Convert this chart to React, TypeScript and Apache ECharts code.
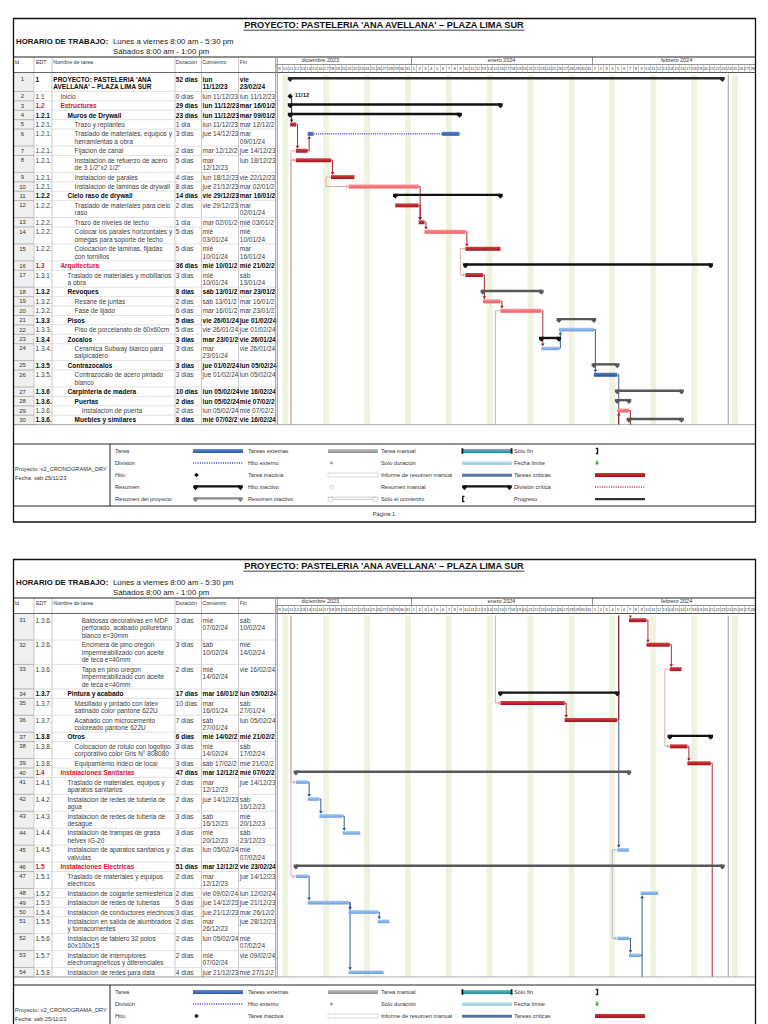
import React, { useEffect, useRef } from "react";
import * as echarts from "echarts";

// ---------------- data ----------------
const projectTitle = "PROYECTO: PASTELERIA 'ANA AVELLANA' – PLAZA LIMA SUR";
const scheduleTitle = "HORARIO DE TRABAJO:";
const scheduleLines = ["Lunes a viernes 8:00 am - 5:30 pm", "Sábados 8:00 am - 1:00 pm"];
const columnHeaders = ["Id", "EDT", "Nombre de tarea", "Duración", "Comienzo", "Fin"];
const projectInfo = ["Proyecto: v2_CRONOGRAMA_DRY", "Fecha: sáb 25/11/23"];
const footerLabel = "Página 1";

const edt = [
  "1", "1.1", "1.2", "1.2.1", "1.2.1.1", "1.2.1.2", "1.2.1.3", "1.2.1.4", "1.2.1.5", "1.2.1.6",
  "1.2.2", "1.2.2.1", "1.2.2.2", "1.2.2.3", "1.2.2.4", "1.3", "1.3.1", "1.3.2", "1.3.2.1", "1.3.2.2",
  "1.3.3", "1.3.3.1", "1.3.4", "1.3.4.1", "1.3.5", "1.3.5.1", "1.3.6", "1.3.6.1", "1.3.6.1.1", "1.3.6.2",
  "1.3.6.2.1", "1.3.6.2.2", "1.3.6.2.3", "1.3.7", "1.3.7.1", "1.3.7.2", "1.3.8", "1.3.8.1", "1.3.8.2", "1.4",
  "1.4.1", "1.4.2", "1.4.3", "1.4.4", "1.4.5", "1.5", "1.5.1", "1.5.2", "1.5.3", "1.5.4",
  "1.5.5", "1.5.6", "1.5.7", "1.5.8",
];

const taskNames = [
  "PROYECTO: PASTELERIA 'ANA\nAVELLANA' – PLAZA LIMA SUR",
  "Inicio",
  "Estructuras",
  "Muros de Drywall",
  "Trazo y replanteo",
  "Traslado de materiales, equipos y\nherramientas a obra",
  "Fijacion de canal",
  "Instalacion de refuerzo de acero\nde 3 1/2\"x2 1/2\"",
  "Instalacion de parales",
  "Instalacion de laminas de drywall",
  "Cielo raso de drywall",
  "Traslado de materiales para cielo\nraso",
  "Trazo de niveles de techo",
  "Colocar los parales horizontales y\nomegas para soporte de techo",
  "Colocacion de laminas, fijadas\ncon tornillos",
  "Arquitectura",
  "Traslado de materiales y mobiliarios\na obra",
  "Revoques",
  "Resane de juntas",
  "Fase de lijado",
  "Pisos",
  "Piso de porcelanato de 60x60cm",
  "Zocalos",
  "Ceramica Subway blanco para\nsalpicadero",
  "Contrazocalos",
  "Contrazocalo de acero pintado\nblanco",
  "Carpinteria de madera",
  "Puertas",
  "Instalacion de puerta",
  "Muebles y similares",
  "Baldosas decorativas en MDF\nperforado, acabado poliuretano\nblanco e=30mm",
  "Encimera de pino oregon\nimpermeabilizado con aceite\nde teca e=40mm",
  "Tapa en pino oregon\nimpermeabilizado con aceite\nde teca e=40mm",
  "Pintura y acabado",
  "Masillado y pintado con latex\nsatinado color pantone 622U",
  "Acabado con microcemento\ncoloreado pantone 622U",
  "Otros",
  "Colocacion de rotulo con logotipo\ncorporativo color Gris N° 808080",
  "Equipamiento indeci de local",
  "Instalaciones Sanitarias",
  "Traslado de materiales, equipos y\naparatos sanitarios",
  "Instalacion de redes de tuberia de\nagua",
  "Instalacion de redes de tuberia de\ndesague",
  "Instalacion de trampas de grasa\nhelvex IG-20",
  "Instalacion de aparatos sanitarios y\nvalvulas",
  "Instalaciones Electricas",
  "Traslado de materiales y equipos\nelectricos",
  "Instalacion de colgante semiesferica",
  "Instalacion de redes de tuberias",
  "Instalacion de conductores electricos",
  "Instalacion en salida de alumbrados\ny tomacorrientes",
  "Instalacion de tablero 32 polos\n60x100x15",
  "Instalacion de interruptores\nelectromagneticos y diferenciales",
  "Instalacion de redes para data",
];

const durations = [
  "52 días", "0 días", "29 días", "23 días", "1 día", "3 días", "2 días", "5 días", "4 días", "8 días",
  "14 días", "2 días", "1 día", "5 días", "5 días", "36 días", "3 días", "8 días", "2 días", "6 días",
  "5 días", "5 días", "3 días", "3 días", "3 días", "3 días", "10 días", "2 días", "2 días", "8 días",
  "3 días", "3 días", "2 días", "17 días", "10 días", "7 días", "6 días", "3 días", "3 días", "47 días",
  "2 días", "2 días", "3 días", "3 días", "2 días", "51 días", "2 días", "2 días", "5 días", "3 días",
  "2 días", "2 días", "2 días", "4 días",
];

const startDates = [
  "lun 11/12/23", "lun 11/12/23", "lun 11/12/23", "lun 11/12/23", "lun 11/12/23", "jue 14/12/23", "mar 12/12/23", "mar 12/12/23", "lun 18/12/23", "jue 21/12/23",
  "vie 29/12/23", "vie 29/12/23", "mar 02/01/24", "mié 03/01/24", "mié 10/01/24", "mié 10/01/24", "mié 10/01/24", "sáb 13/01/24", "sáb 13/01/24", "mar 16/01/24",
  "vie 26/01/24", "vie 26/01/24", "mar 23/01/24", "mar 23/01/24", "jue 01/02/24", "jue 01/02/24", "lun 05/02/24", "lun 05/02/24", "lun 05/02/24", "mié 07/02/24",
  "mié 07/02/24", "sáb 10/02/24", "mié 14/02/24", "mar 16/01/24", "mar 16/01/24", "sáb 27/01/24", "mié 14/02/24", "mié 14/02/24", "sáb 17/02/24", "mar 12/12/23",
  "mar 12/12/23", "jue 14/12/23", "sáb 16/12/23", "mié 20/12/23", "lun 05/02/24", "mar 12/12/23", "mar 12/12/23", "vie 09/02/24", "jue 14/12/23", "jue 21/12/23",
  "mar 26/12/23", "lun 05/02/24", "mié 07/02/24", "jue 21/12/23",
];

const endDates = [
  "vie 23/02/24", "lun 11/12/23", "mar 16/01/24", "mar 09/01/24", "mar 12/12/23", "mar 09/01/24", "jue 14/12/23", "lun 18/12/23", "vie 22/12/23", "mar 02/01/24",
  "mar 16/01/24", "mar 02/01/24", "mié 03/01/24", "mié 10/01/24", "mar 16/01/24", "mié 21/02/24", "sáb 13/01/24", "mar 23/01/24", "mar 16/01/24", "mar 23/01/24",
  "jue 01/02/24", "jue 01/02/24", "vie 26/01/24", "vie 26/01/24", "lun 05/02/24", "lun 05/02/24", "vie 16/02/24", "mié 07/02/24", "mié 07/02/24", "vie 16/02/24",
  "sáb 10/02/24", "mié 14/02/24", "vie 16/02/24", "lun 05/02/24", "sáb 27/01/24", "lun 05/02/24", "mié 21/02/24", "sáb 17/02/24", "mié 21/02/24", "mié 07/02/24",
  "jue 14/12/23", "sáb 16/12/23", "mié 20/12/23", "sáb 23/12/23", "mié 07/02/24", "vie 23/02/24", "jue 14/12/23", "lun 12/02/24", "jue 21/12/23", "mar 26/12/23",
  "jue 28/12/23", "mié 07/02/24", "vie 09/02/24", "mié 27/12/23",
];

// P project summary, S summary, g grey summary, M milestone, C critical, c critical (light),
// B task, b task (light), X split task
const barKinds = [
  "P", "M", "S", "S", "C", "X", "C", "C", "C", "c",
  "S", "C", "C", "c", "C", "S", "C", "g", "c", "c",
  "g", "b", "S", "b", "g", "B", "g", "g", "c", "g",
  "C", "C", "C", "S", "C", "C", "S", "C", "C", "g",
  "b", "b", "b", "b", "b", "g", "b", "b", "b", "b",
  "b", "b", "b", "b",
];

const splitTask = { id: 6, pause: "vie 15/12/23", resume: "sáb 06/01/24" };

// dependencies (0 = continues past the page)
const linkFrom = [2, 5, 7, 8, 10, 12, 13, 14, 17, 19, 20, 24, 22, 26, 36, 29, 31, 32, 38, 39, 35, 52, 53, 53, 41, 42, 43, 47, 49, 50, 49, 7, 9, 15, 20, 33, 45, 8, 8];
const linkTo = [5, 7, 6, 9, 13, 13, 14, 15, 19, 20, 24, 22, 26, 45, 29, 31, 32, 33, 39, 0, 36, 53, 48, 0, 42, 43, 44, 49, 50, 51, 54, 8, 10, 17, 35, 38, 52, 41, 47];
const linkType = [
  "FS", "FS", "FS", "FS", "FS", "FS", "FS", "FS", "FS", "FS", "FS", "FS", "FS", "FS", "FS", "FS", "FS", "FS", "FS", "FS",
  "FS", "FS", "FS", "FS", "FS", "FS", "FS", "FS", "FS", "FS", "FS", "SS", "SS", "SS", "SS", "SS", "SS", "SS", "SS",
];

const rowsPerPage = [30, 24];
const timelineStart = "09/12/23";
const timelineEnd = "29/02/24";
const monthLabels = ["diciembre 2023", "enero 2024", "febrero 2024"];
const finishLineDate = "24/02/24";

const legendColumns = [
  ["Tarea", "División", "Hito", "Resumen", "Resumen del proyecto"],
  ["Tareas externas", "Hito externo", "Tarea inactiva", "Hito inactivo", "Resumen inactivo"],
  ["Tarea manual", "Sólo duración", "Informe de resumen manual", "Resumen manual", "Sólo el comienzo"],
  ["Sólo fin", "Fecha límite", "Tareas críticas", "División crítica", "Progreso"],
];

// ---------------- layout ----------------
const FAM = "'Liberation Sans', Arial, Helvetica, sans-serif";
const PAGE_OFFSETS = [0, 541];
const UNIT = 7.53;
const ROWS_TOP = 74.5;
const GANTT_LEFT = 276.5;
const GANTT_RIGHT = 755.5;
const COL_LINES = [34, 52, 175, 201.5, 238.5];
const RED_TEXT = "#e3141c";

function parseDay(s: string, hour = 8) {
  const m = s.match(/(\d{2})\/(\d{2})\/(\d{2})/) as RegExpMatchArray;
  return new Date(2000 + Number(m[3]), Number(m[2]) - 1, Number(m[1]), hour).getTime();
}
const T0 = parseDay(timelineStart, 0);
const T1 = parseDay(timelineEnd, 0);

let mctx: any = null;
function textWidth(s: string, size: number, bold = false) {
  if (!mctx) mctx = document.createElement("canvas").getContext("2d");
  mctx.font = `${bold ? "bold " : ""}${size}px 'Liberation Sans'`;
  return mctx.measureText(s).width;
}
function clipLine(s: string, size: number, bold: boolean, w: number) {
  let t = s;
  while (t.length > 1 && textWidth(t, size, bold) > w) t = t.slice(0, -1);
  return t;
}
function clipText(s: string, size: number, bold: boolean, w: number) {
  return s.split("\n").map((l) => clipLine(l, size, bold, w)).join("\n");
}
function fitDate(s: string, bold: boolean, lines: number) {
  if (textWidth(s, 6.5, bold) <= 35.95) return s;
  if (lines > 1) return s.replace(" ", "\n");
  return clipLine(s, 6.5, bold, 37.5);
}

const rows = taskNames.map((name, i) => {
  const lines = name.split("\n").length;
  return {
    idx: i,
    name,
    edt: edt[i],
    level: edt[i].split(".").length,
    kind: barKinds[i],
    lines,
    units: lines + 0.25,
    start: parseDay(startDates[i]),
    end: parseDay(endDates[i]),
    top: 0,
  };
});
{
  let acc = 0;
  rows.forEach((r) => {
    r.top = acc;
    acc += r.units;
  });
}
const pageFirst = [0, rowsPerPage[0]];
const pageStartUnit = pageFirst.map((f) => rows[f].top);
const pageUnits = pageFirst.map((f, p) => {
  const last = rows[f + rowsPerPage[p] - 1];
  return last.top + last.units - rows[f].top;
});

const dayList: Date[] = [];
{
  const d = new Date(T0);
  while (d.getTime() < T1 - 3600000) {
    dayList.push(new Date(d));
    d.setDate(d.getDate() + 1);
  }
}
const dayLabels = dayList.map((d) => String(d.getDate()));
const firstMonth = dayList[0].getFullYear() * 12 + dayList[0].getMonth();
const monthRowLabels = dayList.map((d) => {
  const mdays = new Date(d.getFullYear(), d.getMonth() + 1, 0).getDate();
  return d.getDate() === Math.ceil(mdays / 2) ? monthLabels[d.getFullYear() * 12 + d.getMonth() - firstMonth] : "";
});
const sundays = dayList.filter((d) => d.getDay() === 0).map((d) => d.getTime());

// ---------------- drawing helpers ----------------
function txt(text: string, x: number, y: number, size: number, o: any = {}) {
  const align = o.align || "left";
  const va = o.va || "middle";
  const style: any = {
    text,
    font: `${o.bold ? "bold " : ""}${size}px ${FAM}`,
    fill: o.color || "#222",
    align,
    textAlign: align,
    verticalAlign: va,
    textVerticalAlign: va,
  };
  if (o.lh) {
    style.lineHeight = o.lh;
    style.textLineHeight = o.lh;
  }
  return { type: "text", x, y, z: o.z ?? 10, silent: true, style };
}
function lineEl(x1: number, y1: number, x2: number, y2: number, stroke: string, lw = 1, z = 5, dash?: number[]) {
  const style: any = { stroke, lineWidth: lw };
  if (dash) style.lineDash = dash;
  return { type: "line", z, silent: true, shape: { x1, y1, x2, y2 }, style };
}
function rectEl(x: number, y: number, w: number, h: number, fill: any, stroke: any = null, lw = 0, z = 5) {
  const style: any = { fill };
  if (stroke) {
    style.stroke = stroke;
    style.lineWidth = lw;
  }
  return { type: "rect", z, silent: true, shape: { x, y, width: w, height: h }, style };
}
function grad(c1: string, c2: string) {
  return new echarts.graphic.LinearGradient(0, 0, 0, 1, [
    { offset: 0, color: c1 },
    { offset: 1, color: c2 },
  ]);
}
function diamond(cx: number, cy: number, r: number, fill: string, stroke?: string) {
  const style: any = { fill };
  if (stroke) {
    style.stroke = stroke;
    style.lineWidth = 0.6;
  }
  return { type: "polygon", z: 6, silent: true, shape: { points: [[cx, cy - r], [cx + r, cy], [cx, cy + r], [cx - r, cy]] }, style };
}
function summaryEls(xs: number, xe: number, yc: number, color: string, hollow = false) {
  const cap = (x: number) => ({
    type: "polygon",
    z: 6,
    silent: true,
    shape: { points: [[x - 2.3, yc - 2.2], [x + 2.3, yc - 2.2], [x + 2.3, yc + 0.4], [x, yc + 2.8], [x - 2.3, yc + 0.4]] },
    style: hollow ? { fill: "#fff", stroke: color, lineWidth: 0.6 } : { fill: color },
  });
  const bar = hollow
    ? rectEl(xs, yc - 2.2, Math.max(0.5, xe - xs), 2.4, "#fff", color, 0.6, 6)
    : rectEl(xs, yc - 2.2, Math.max(0.5, xe - xs), 2.4, color, null, 0, 6);
  return [bar, cap(xs), cap(xe)];
}
function barFill(kind: string) {
  switch (kind) {
    case "C": return grad("#d4454a", "#a0121a");
    case "c": return grad("#ff9294", "#ee5c60");
    case "B": return grad("#4d7cc4", "#25539a");
    case "b": return grad("#a3c6f2", "#6f9fe0");
    default: return grad("#5585cf", "#2f5fab");
  }
}
function arrowPts(dir: string, x: number, y: number) {
  if (dir === "down") return [[x - 1.8, y - 2.8], [x + 1.8, y - 2.8], [x, y]];
  if (dir === "up") return [[x - 1.8, y + 2.8], [x + 1.8, y + 2.8], [x, y]];
  return [[x - 2.8, y - 1.8], [x - 2.8, y + 1.8], [x, y]];
}

// ---------------- series render functions ----------------
function sundayItem(params: any, api: any) {
  const t = api.value(0);
  const x0 = api.coord([t, 0])[0];
  const x1 = api.coord([t + 86400000, 0])[0];
  const cs = params.coordSys;
  return { type: "rect", shape: { x: x0, y: cs.y, width: x1 - x0, height: cs.height }, style: { fill: "#edf3de" } };
}
function finishItem(params: any, api: any) {
  const x = api.coord([api.value(0), 0])[0];
  const cs = params.coordSys;
  return { type: "line", shape: { x1: x, y1: cs.y, x2: x, y2: cs.y + cs.height }, style: { stroke: "#9d9d9d", lineWidth: 1 } };
}
function tableItem(params: any, api: any) {
  const i = api.value(2);
  const r = rows[i];
  const yTop = api.coord([T0, r.top])[1];
  const yBot = api.coord([T0, r.top + r.units])[1];
  const bold = r.kind === "S" || r.kind === "g" || r.kind === "P";
  const red = bold && r.level === 2;
  const base = bold ? "#0a0a0a" : "#3c3c3c";
  const ty = yTop + 1;
  const ch: any[] = [];
  ch.push(lineEl(13.5, yBot, 34, yBot, "#9c9c9c", 0.7, 2));
  ch.push(lineEl(34, yBot, 276.5, yBot, "#d6d6d6", 0.7, 2));
  const o = (extra: any) => ({ va: "top", lh: UNIT, bold, color: base, ...extra });
  ch.push(txt(String(i + 1), 22.5, ty, 6, { va: "top", lh: UNIT, align: "center", color: "#333" }));
  ch.push(txt(clipText(r.edt, 6.5, bold, 16.3), 35.5, ty, 6.5, o({ color: red ? RED_TEXT : base })));
  const nx = 53.3 + (r.level - 1) * 7.1;
  ch.push(txt(clipText(r.name, 6.5, bold, 175 - nx - 0.3), nx, ty, 6.5, o({ color: red ? RED_TEXT : base })));
  ch.push(txt(clipText(durations[i], 6.5, bold, 25.5), 175.8, ty, 6.5, o({})));
  ch.push(txt(fitDate(startDates[i], bold, r.lines), 202.6, ty, 6.5, o({})));
  ch.push(txt(fitDate(endDates[i], bold, r.lines), 239.8, ty, 6.5, o({})));
  return { type: "group", children: ch };
}
function barItem(params: any, api: any) {
  const i = api.value(2);
  const r = rows[i];
  const X = (t: number) => api.coord([t, 0])[0];
  const yc = api.coord([T0, r.top + 0.625])[1];
  const xs = X(r.start);
  const xe = X(r.end);
  const ch: any[] = [];
  const rect = (a: number, b: number, fill: any, h = 4) => rectEl(a, yc - h / 2, Math.max(0.8, b - a), h, fill, null, 0, 6);
  switch (r.kind) {
    case "P": ch.push(...summaryEls(xs, xe, yc, "#2b2b2b")); break;
    case "S": ch.push(...summaryEls(xs, xe, yc, "#121212")); break;
    case "g": ch.push(...summaryEls(xs, xe, yc, "#585858")); break;
    case "M": {
      const m = startDates[i].match(/(\d{2}\/\d{2})/) as RegExpMatchArray;
      ch.push(diamond(xs, yc, 2.6, "#111"));
      ch.push(txt(m[1], xs + 4.5, yc - 0.8, 6, { bold: true, color: "#222" }));
      break;
    }
    case "X": {
      const p1 = X(parseDay(splitTask.pause));
      const p2 = X(parseDay(splitTask.resume));
      ch.push(rect(xs, p1, barFill("X")));
      ch.push(lineEl(p1, yc, p2, yc, "#2f2fd0", 1.2, 6, [1, 1.2]));
      ch.push(rect(p2, xe, barFill("X")));
      break;
    }
    default:
      ch.push(rect(xs, xe, barFill(r.kind), r.kind === "b" ? 3.6 : 4));
  }
  return { type: "group", children: ch };
}
function linkColor(a: any, type: string) {
  const crit = a.kind === "C" || a.kind === "c";
  if (a.kind === "M") return "#111";
  if (type === "SS") return crit ? "#e6a0a3" : "#a4b7d3";
  return crit ? "#a6131b" : "#1e4d95";
}
function linkItem(params: any, api: any) {
  const k = api.value(2);
  const a = rows[linkFrom[k] - 1];
  const X = (t: number) => api.coord([t, 0])[0];
  const Y = (u: number) => api.coord([T0, u])[1];
  const yA = Y(a.top + 0.625);
  const aS = X(a.start);
  const aE = a.kind === "M" ? aS : X(a.end);
  const color = linkColor(a, linkType[k]);
  let pts: number[][];
  let arrow: number[][] | null = null;
  const toId = linkTo[k];
  if (toId === 0) {
    const xv = aE + 1.5;
    pts = [[aE, yA], [xv, yA], [xv, yA + 3000]];
  } else {
    const b = rows[toId - 1];
    const yB = Y(b.top + 0.625);
    const bS = X(b.start);
    if (linkType[k] === "SS") {
      const xl = Math.min(aS, bS) - 5;
      pts = [[aS, yA], [xl, yA], [xl, yB], [bS - 2.6, yB]];
      arrow = arrowPts("right", bS, yB);
    } else if (bS >= aE - 0.5) {
      const xv = Math.max(bS, aE) + 1.5;
      if (yB > yA) {
        const tip = yB - 2.2;
        pts = [[aE, yA], [xv, yA], [xv, tip - 2.6]];
        arrow = arrowPts("down", xv, tip);
      } else {
        const tip = yB + 2.2;
        pts = [[aE, yA], [xv, yA], [xv, tip + 2.6]];
        arrow = arrowPts("up", xv, tip);
      }
    } else {
      const yMid = Y(a.top + a.units);
      const xr = aE + 3;
      const xl = bS - 4;
      pts = [[aE, yA], [xr, yA], [xr, yMid], [xl, yMid], [xl, yB], [bS - 2.6, yB]];
      arrow = arrowPts("right", bS, yB);
    }
  }
  const ch: any[] = [{ type: "polyline", shape: { points: pts }, style: { stroke: color, lineWidth: 0.9, fill: null } }];
  if (arrow) ch.push({ type: "polygon", shape: { points: arrow }, style: { fill: color } });
  return { type: "group", children: ch };
}

// ---------------- legend ----------------
function legendSymbol(label: string, x0: number, y: number) {
  const x1 = x0 + 50;
  const bar = (fill: any, h = 4, stroke: any = null) => rectEl(x0, y - h / 2, 50, h, fill, stroke, 0.6, 6);
  switch (label) {
    case "Tarea": return [bar(grad("#5f8fd3", "#2c5aa0"))];
    case "División": return [lineEl(x0, y, x1, y, "#3b3bd6", 1.3, 6, [1, 1.3])];
    case "Hito": return [diamond(x0 + 3.5, y, 2.3, "#111")];
    case "Resumen": return summaryEls(x0 + 2.5, x1 - 2.5, y + 0.4, "#111");
    case "Resumen del proyecto": return summaryEls(x0 + 2.5, x1 - 2.5, y + 0.4, "#8a8a8a");
    case "Tareas externas": return [bar(grad("#c4c4c4", "#8f8f8f"))];
    case "Hito externo": return [diamond(x0 + 3.5, y, 1.8, "#9a9a9a")];
    case "Tarea inactiva": return [bar("#ffffff", 4, "#c4c4c4")];
    case "Hito inactivo": return [diamond(x0 + 3.5, y, 2.1, "#ffffff", "#aaaaaa")];
    case "Resumen inactivo": return summaryEls(x0 + 2.5, x1 - 2.5, y + 0.4, "#a8a8a8", true);
    case "Tarea manual": return [
      bar(grad("#62c0c6", "#1f8a92")),
      rectEl(x0 - 0.5, y - 2.8, 1.8, 5.6, "#111", null, 0, 7),
      rectEl(x1 - 1.3, y - 2.8, 1.8, 5.6, "#111", null, 0, 7),
    ];
    case "Sólo duración": return [bar(grad("#c9e6f2", "#8fc6df"), 3.6)];
    case "Informe de resumen manual": return [rectEl(x0, y - 1.2, 50, 3, "#56769e", null, 0, 6)];
    case "Resumen manual": return summaryEls(x0 + 2.5, x1 - 2.5, y + 0.4, "#111");
    case "Sólo el comienzo": return [{ type: "polyline", z: 6, silent: true, shape: { points: [[x0 + 2.5, y - 2.6], [x0 + 0.8, y - 2.6], [x0 + 0.8, y + 2.6], [x0 + 2.5, y + 2.6]] }, style: { stroke: "#111", lineWidth: 1.4, fill: null } }];
    case "Sólo fin": return [{ type: "polyline", z: 6, silent: true, shape: { points: [[x0 + 0.8, y - 2.6], [x0 + 2.5, y - 2.6], [x0 + 2.5, y + 2.6], [x0 + 0.8, y + 2.6]] }, style: { stroke: "#111", lineWidth: 1.4, fill: null } }];
    case "Fecha límite": return [
      lineEl(x0 + 2, y - 3, x0 + 2, y, "#2a9a2a", 1, 6),
      { type: "polygon", z: 6, silent: true, shape: { points: [[x0, y - 0.5], [x0 + 4, y - 0.5], [x0 + 2, y + 2.2]] }, style: { fill: "#2a9a2a" } },
    ];
    case "Tareas críticas": return [bar(grad("#d4353b", "#a0121a"))];
    case "División crítica": return [lineEl(x0, y, x1, y, "#d02a2a", 1.3, 6, [1, 1.3])];
    case "Progreso": return [rectEl(x0, y - 1, 50, 2.2, "#333", null, 0, 6)];
  }
  return [];
}

function pageGraphics(p: number) {
  const o = PAGE_OFFSETS[p];
  const rowsEnd = ROWS_TOP + o + pageUnits[p] * UNIT;
  const els: any[] = [];
  const borderBottom = p === 0 ? 522 : 1200;
  els.push(rectEl(13.5, 18.5 + o, 742, borderBottom - 18.5 - o, "none", "#111", 1.3, 30));
  const tw = textWidth(projectTitle, 9.2, true);
  els.push(txt(projectTitle, 384, 25 + o, 9.2, { bold: true, align: "center", color: "#111" }));
  els.push(lineEl(384 - tw / 2, 30.2 + o, 384 + tw / 2, 30.2 + o, "#111", 0.8, 10));
  els.push(txt(scheduleTitle, 16, 41.5 + o, 7.8, { bold: true, color: "#111" }));
  els.push(txt(scheduleLines[0], 113, 41.5 + o, 7.8, { color: "#222" }));
  els.push(txt(scheduleLines[1], 113, 51 + o, 7.8, { color: "#222" }));
  // table header
  els.push(lineEl(13.5, 57 + o, 755.5, 57 + o, "#222", 1, 8));
  els.push(lineEl(13.5, 72.5 + o, 276.5, 72.5 + o, "#444", 0.8, 8));
  const hx = [14.5, 36, 53.3, 175.7, 202.3, 239.7];
  columnHeaders.forEach((h, k) => els.push(txt(h, hx[k], 62 + o, 5.3, { color: "#333" })));
  els.push(rectEl(13.5, 72.5 + o, 20.5, rowsEnd - 72.5 - o, "#efefef", null, 0, 0));
  COL_LINES.forEach((x) => els.push(lineEl(x, 57 + o, x, rowsEnd, "#b4b4b4", 0.7, 3)));
  els.push(lineEl(275.6, 57 + o, 275.6, rowsEnd, "#8a8a8a", 0.8, 8));
  els.push(lineEl(277.4, 57 + o, 277.4, rowsEnd, "#8a8a8a", 0.8, 8));
  els.push(lineEl(13.5, rowsEnd, 755.5, rowsEnd, "#9a9a9a", 0.8, 8));
  // legend
  const lt = 444 + o;
  els.push(lineEl(13.5, lt, 755.5, lt, "#222", 1, 8));
  els.push(lineEl(110, lt, 110, p === 0 ? 506 : 1200, "#222", 1, 8));
  els.push(txt(projectInfo[0], 15, 469 + o, 5.7, { color: "#333" }));
  els.push(txt(projectInfo[1], 15, 478 + o, 5.7, { color: "#333" }));
  const ly = [451, 463, 475, 487, 499];
  const lx = [115, 248, 381, 514];
  const sx = [193, 328, 462, 595];
  legendColumns.forEach((col, c) => {
    col.forEach((label, k) => {
      const y = ly[k] + o;
      if (y > 1030) return;
      els.push(txt(label, lx[c], y, 5.7, { color: "#333" }));
      els.push(...legendSymbol(label, sx[c], y));
    });
  });
  if (p === 0) {
    els.push(lineEl(13.5, 506, 755.5, 506, "#222", 1, 8));
    els.push(txt(footerLabel, 384, 514, 5.7, { align: "center", color: "#333" }));
  }
  return els;
}

function dayAxis(g: number) {
  return {
    type: "category",
    gridIndex: g,
    position: "top",
    offset: 2,
    data: dayLabels,
    boundaryGap: true,
    axisLine: { show: true, lineStyle: { color: "#555", width: 1 } },
    axisTick: { show: true, interval: 0, length: 8, lineStyle: { color: "#a8a8a8", width: 0.6 } },
    axisLabel: { show: true, interval: 0, fontSize: 4.3, margin: 1.6, color: "#333", fontFamily: FAM },
    splitLine: { show: false },
  };
}
function monthAxis(g: number) {
  return {
    type: "category",
    gridIndex: g,
    position: "top",
    offset: 10,
    data: monthRowLabels,
    boundaryGap: true,
    axisLine: { show: true, lineStyle: { color: "#777", width: 0.8 } },
    axisTick: {
      show: true,
      length: 7.5,
      interval: (idx: number) => !!dayList[idx] && dayList[idx].getDate() === 1,
      lineStyle: { color: "#777", width: 0.8 },
    },
    axisLabel: { show: true, interval: 0, fontSize: 5.5, margin: 1.6, color: "#333", fontFamily: FAM },
    splitLine: { show: false },
  };
}

function buildOption() {
  const grid: any[] = [];
  const xAxis: any[] = [];
  const yAxis: any[] = [];
  const series: any[] = [];
  let graphics: any[] = [];
  for (let p = 0; p < 2; p++) {
    const o = PAGE_OFFSETS[p];
    grid.push({
      left: GANTT_LEFT,
      top: ROWS_TOP + o,
      width: GANTT_RIGHT - GANTT_LEFT,
      height: pageUnits[p] * UNIT,
      containLabel: false,
      outerBoundsMode: "none",
      show: false,
    });
    const xi = xAxis.length;
    xAxis.push({ type: "time", gridIndex: p, min: T0, max: T1, show: false });
    xAxis.push(dayAxis(p));
    xAxis.push(monthAxis(p));
    yAxis.push({
      type: "value",
      gridIndex: p,
      min: pageStartUnit[p],
      max: pageStartUnit[p] + pageUnits[p],
      inverse: true,
      show: false,
      splitLine: { show: false },
    });
    const common = { type: "custom", xAxisIndex: xi, yAxisIndex: p, coordinateSystem: "cartesian2d", silent: true, encode: { x: 0, y: 1 } };
    const idxs: number[] = [];
    for (let i = pageFirst[p]; i < pageFirst[p] + rowsPerPage[p]; i++) idxs.push(i);
    series.push({ ...common, name: `domingos${p}`, z: 1, clip: true, renderItem: sundayItem, data: sundays.map((t) => [t, pageStartUnit[p]]) });
    series.push({ ...common, name: `fin${p}`, z: 2, clip: true, renderItem: finishItem, data: [[parseDay(finishLineDate), pageStartUnit[p]]] });
    series.push({ ...common, name: `tabla${p}`, z: 3, clip: false, renderItem: tableItem, data: idxs.map((i) => [T0, rows[i].top, i]) });
    series.push({ ...common, name: `vinculos${p}`, z: 4, clip: true, renderItem: linkItem, data: linkFrom.map((_, k) => [T0, pageStartUnit[p], k]) });
    series.push({ ...common, name: `barras${p}`, z: 5, clip: false, renderItem: barItem, data: idxs.map((i) => [rows[i].start, rows[i].top, i]) });
    graphics = graphics.concat(pageGraphics(p));
  }
  return {
    animation: false,
    backgroundColor: "#ffffff",
    textStyle: { fontFamily: FAM },
    grid,
    xAxis,
    yAxis,
    series,
    graphic: { elements: graphics },
  };
}

export default function App() {
  const ref = useRef<HTMLDivElement>(null);
  useEffect(() => {
    document.body.style.margin = "0";
    const chart = echarts.init(ref.current as HTMLDivElement, null, { renderer: "svg", width: 768, height: 1024 });
    chart.setOption(buildOption() as any);
    return () => chart.dispose();
  }, []);
  return <div ref={ref} style={{ width: 768, height: 1024 }} />;
}
